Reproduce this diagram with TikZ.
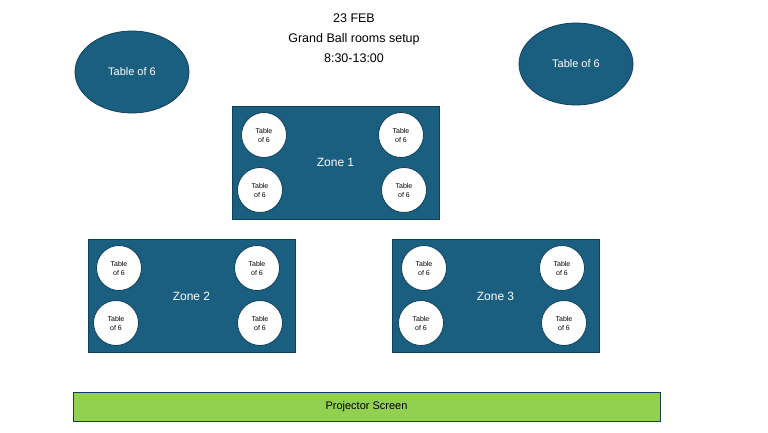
\documentclass[tikz,border=0pt]{standalone}
\usepackage{fontspec}
\setmainfont{Liberation Sans}
\usetikzlibrary{shapes.geometric}
\definecolor{teal}{HTML}{1A5E80}
\definecolor{edge}{HTML}{0F3F5A}
\definecolor{scr}{HTML}{92D050}
\begin{document}
\begin{tikzpicture}[x=1pt,y=-1pt,
 zone/.style={draw=edge,fill=teal,text=white,minimum width=207pt,minimum height=113pt,font=\fontsize{12}{14}\selectfont,line width=0.8pt},
 tbl/.style={circle,draw=edge,fill=white,minimum size=45pt,inner sep=0pt,align=center,font=\fontsize{7}{9}\selectfont,line width=0.8pt},
 big/.style={ellipse,draw=edge,fill=teal,text=white,minimum width=114pt,minimum height=82pt,font=\fontsize{11}{13}\selectfont,line width=0.8pt}]
\useasboundingbox (0,0) rectangle (768,433);
\node[align=center,font=\fontsize{12.5}{20}\selectfont] (title) at (354,38) {23 FEB\\Grand Ball rooms setup\\8:30-13:00};
\node[big] (e1) at (132,72) {Table of 6};
\node[big] (e2) at (576,64) {Table of 6};
\node[zone] (z1) at (335.5,162.5) {Zone 1};
\node[zone] (z2) at (191.5,296) {Zone 2};
\node[zone] (z3) at (495.5,296) {Zone 3};
\foreach \n/\x/\y in {a/264/135,b/401/135,c/260/190,d/404/190,
 e/119/268,f/257/268,g/116/323,h/260/323,
 i/424/268,j/562/268,k/421/323,l/564/323}
 \node[tbl] (t\n) at (\x,\y) {Table\\of 6};
\node[draw=edge,fill=scr,minimum width=587pt,minimum height=29pt,font=\fontsize{11}{13}\selectfont,line width=0.8pt] (ps) at (366.5,406.5) {Projector Screen};
\end{tikzpicture}
\end{document}
